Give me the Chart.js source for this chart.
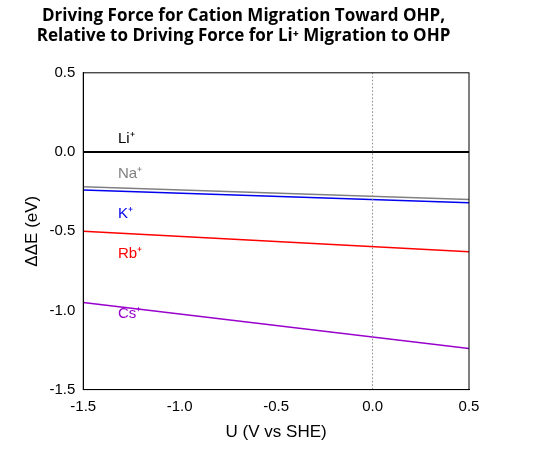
<!DOCTYPE html>
<html><head><meta charset="utf-8">
<script src="https://cdn.jsdelivr.net/npm/chart.js@4"></script>
<style>body{margin:0;background:#fff}#w{width:553px;height:469px}</style>
</head><body><div id="w"><canvas id="c"></canvas></div>
<script>
const xs=[-1.5,0.5];
const seriesNames=['Li⁺','Na⁺','K⁺','Rb⁺','Cs⁺'];
const liVals=[0,0];
const naVals=[-0.22,-0.30];
const kVals=[-0.24,-0.32];
const rbVals=[-0.50,-0.63];
const csVals=[-0.95,-1.24];
const colors=['#000000','#808080','#0000ee','#ff0000','#9900cc'];
const labelY=[0.08,-0.14,-0.39,-0.64,-1.02];
const all=[liVals,naVals,kVals,rbVals,csVals];
const labels={id:'lbl',afterDatasetsDraw(ch){const c=ch.ctx,x=ch.scales.x,y=ch.scales.y;
 c.save();c.font='15px "Liberation Sans", Arial';c.textBaseline='middle';
 seriesNames.forEach((n,i)=>{c.fillStyle=colors[i];c.fillText(n,x.getPixelForValue(-1.32),y.getPixelForValue(labelY[i]));});
 c.strokeStyle='#888';c.setLineDash([1.5,2]);c.lineWidth=1;const px=x.getPixelForValue(0);
 c.beginPath();c.moveTo(px,y.top);c.lineTo(px,y.bottom);c.stroke();
 c.setLineDash([]);c.strokeStyle='#000';c.strokeRect(x.left,y.top,x.right-x.left,y.bottom-y.top);c.restore();}};
new Chart(document.getElementById('c'),{type:'line',
data:{datasets:all.map((v,i)=>({label:seriesNames[i],data:xs.map((x,j)=>({x,y:v[j]})),borderColor:colors[i],borderWidth:i==0?2:1.5,pointRadius:0}))},
options:{responsive:true,maintainAspectRatio:false,animation:false,
layout:{padding:{top:0,right:84,left:18,bottom:22}},
plugins:{legend:{display:false},tooltip:{enabled:false},
title:{display:true,text:['Driving Force for Cation Migration Toward OHP,','Relative to Driving Force for Li⁺ Migration to OHP'],font:{family:'"Open Sans"',size:17,weight:'bold'},color:'#000',padding:{top:6,bottom:26},lineHeight:1.25}},
scales:{x:{type:'linear',min:-1.5,max:0.5,ticks:{stepSize:0.5,color:'#000',font:{size:15,family:'"Liberation Sans"'},callback:v=>v.toFixed(1)},grid:{display:false,drawTicks:true,tickLength:5,color:'#000'},border:{color:'#000'},
 title:{display:true,text:'U (V vs SHE)',font:{size:17,family:'"Liberation Sans"'},color:'#000'}},
y:{min:-1.5,max:0.5,ticks:{stepSize:0.5,color:'#000',font:{size:15,family:'"Liberation Sans"'},callback:v=>v.toFixed(1)},grid:{display:false,tickLength:5},border:{color:'#000'},
 title:{display:true,text:'ΔΔE (eV)',font:{size:17,family:'"Liberation Sans"'},color:'#000'}}}},
plugins:[labels]});
</script></body></html>
